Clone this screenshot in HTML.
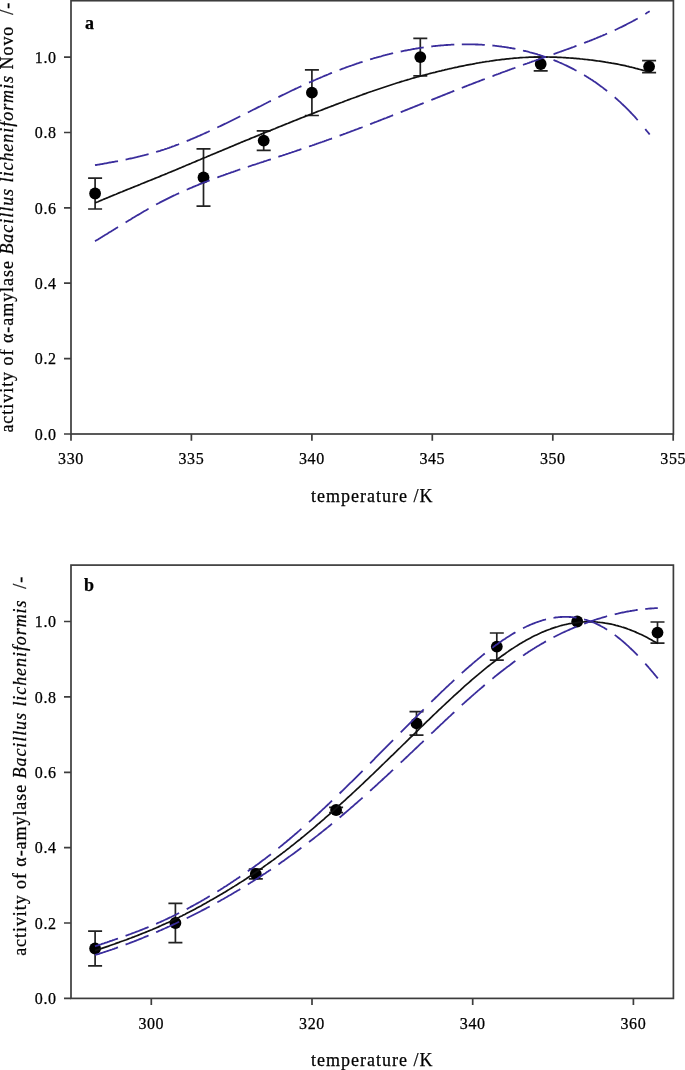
<!DOCTYPE html>
<html><head><meta charset="utf-8"><style>
html,body{margin:0;padding:0;background:#fff;}
svg{display:block}
text{font-family:'Liberation Serif','Times New Roman',serif;fill:#000;stroke:#000;stroke-width:0.25px}
.t{font-size:16px;letter-spacing:1px}
.ax{font-size:18px;letter-spacing:1px}
.pl{font-size:18px;font-weight:bold}
</style></head><body>
<svg width="685" height="1070" viewBox="0 0 685 1070">
<rect width="685" height="1070" fill="#fff"/>
<!-- panel a -->
<g fill="none" stroke="#3c3c3c" stroke-width="1.7">
<rect x="71" y="0.7" width="602.4" height="433.3"/>
<path d="M64 434H71M64 358.6H71M64 283.2H71M64 207.9H71M64 132.5H71M64 57.1H71M71 434.0V440.8M191.4 434.0V440.8M311.9 434.0V440.8M432.3 434.0V440.8M552.8 434.0V440.8M673.2 434.0V440.8"/>
</g>
<g stroke="#222" stroke-width="1.7" fill="none"><path d="M95.1 178.1V209M88.1 178.1H102.1M88.1 209H102.1"/><path d="M203.5 148.8V206.1M196.5 148.8H210.5M196.5 206.1H210.5"/><path d="M263.7 130.8V150.4M256.7 130.8H270.7M256.7 150.4H270.7"/><path d="M311.9 69.9V115.5M304.9 69.9H318.9M304.9 115.5H318.9"/><path d="M420.3 38.3V75.9M413.3 38.3H427.3M413.3 75.9H427.3"/><path d="M540.7 57.2V70.8M533.7 57.2H547.7M533.7 70.8H547.7"/><path d="M649.1 60.6V72.6M642.1 60.6H656.1M642.1 72.6H656.1"/></g>
<g fill="#000"><circle cx="95.1" cy="193.5" r="5.9"/><circle cx="203.5" cy="177.5" r="5.9"/><circle cx="263.7" cy="140.6" r="5.9"/><circle cx="311.9" cy="92.7" r="5.9"/><circle cx="420.3" cy="57.1" r="5.9"/><circle cx="540.7" cy="64" r="5.9"/><circle cx="649.1" cy="66.6" r="5.9"/></g>
<path d="M95.1 202.9 L96.6 202.3 L98.1 201.7 L99.6 201 L101.1 200.4 L102.6 199.8 L104.1 199.1 L105.6 198.5 L107.1 197.9 L108.6 197.2 L110.1 196.6 L111.6 196 L113.1 195.4 L114.6 194.8 L116.1 194.2 L117.6 193.5 L119.1 192.9 L120.6 192.3 L122.1 191.7 L123.5 191.1 L125 190.5 L126.5 189.9 L128 189.3 L129.5 188.7 L131 188.1 L132.5 187.5 L134 186.9 L135.5 186.3 L137 185.7 L138.5 185.1 L140 184.5 L141.5 183.8 L143 183.2 L144.5 182.6 L146 182 L147.5 181.4 L149 180.8 L150.5 180.2 L152 179.6 L153.5 179 L155 178.4 L156.5 177.8 L158 177.2 L159.5 176.6 L161 175.9 L162.5 175.3 L164 174.7 L165.5 174.1 L167 173.5 L168.5 172.8 L170 172.2 L171.5 171.6 L173 171 L174.5 170.4 L176 169.7 L177.5 169.1 L178.9 168.5 L180.4 167.9 L181.9 167.2 L183.4 166.6 L184.9 166 L186.4 165.3 L187.9 164.7 L189.4 164.1 L190.9 163.5 L192.4 162.8 L193.9 162.2 L195.4 161.6 L196.9 160.9 L198.4 160.3 L199.9 159.7 L201.4 159 L202.9 158.4 L204.4 157.8 L205.9 157.2 L207.4 156.5 L208.9 155.9 L210.4 155.3 L211.9 154.6 L213.4 154 L214.9 153.4 L216.4 152.7 L217.9 152.1 L219.4 151.5 L220.9 150.9 L222.4 150.2 L223.9 149.6 L225.4 149 L226.9 148.4 L228.4 147.7 L229.9 147.1 L231.4 146.5 L232.9 145.9 L234.3 145.2 L235.8 144.6 L237.3 144 L238.8 143.4 L240.3 142.8 L241.8 142.1 L243.3 141.5 L244.8 140.9 L246.3 140.3 L247.8 139.7 L249.3 139.1 L250.8 138.4 L252.3 137.8 L253.8 137.2 L255.3 136.6 L256.8 136 L258.3 135.4 L259.8 134.8 L261.3 134.1 L262.8 133.5 L264.3 132.9 L265.8 132.3 L267.3 131.7 L268.8 131.1 L270.3 130.5 L271.8 129.9 L273.3 129.3 L274.8 128.7 L276.3 128 L277.8 127.4 L279.3 126.8 L280.8 126.2 L282.3 125.6 L283.8 125 L285.3 124.4 L286.8 123.8 L288.3 123.2 L289.7 122.6 L291.2 122 L292.7 121.4 L294.2 120.8 L295.7 120.2 L297.2 119.6 L298.7 119 L300.2 118.4 L301.7 117.8 L303.2 117.2 L304.7 116.6 L306.2 116 L307.7 115.5 L309.2 114.9 L310.7 114.3 L312.2 113.7 L313.7 113.1 L315.2 112.5 L316.7 111.9 L318.2 111.3 L319.7 110.8 L321.2 110.2 L322.7 109.6 L324.2 109 L325.7 108.4 L327.2 107.9 L328.7 107.3 L330.2 106.7 L331.7 106.1 L333.2 105.6 L334.7 105 L336.2 104.4 L337.7 103.9 L339.2 103.3 L340.7 102.7 L342.2 102.2 L343.7 101.6 L345.1 101 L346.6 100.5 L348.1 99.9 L349.6 99.4 L351.1 98.8 L352.6 98.3 L354.1 97.7 L355.6 97.2 L357.1 96.6 L358.6 96.1 L360.1 95.5 L361.6 95 L363.1 94.4 L364.6 93.9 L366.1 93.4 L367.6 92.8 L369.1 92.3 L370.6 91.8 L372.1 91.3 L373.6 90.7 L375.1 90.2 L376.6 89.7 L378.1 89.2 L379.6 88.7 L381.1 88.2 L382.6 87.7 L384.1 87.2 L385.6 86.7 L387.1 86.2 L388.6 85.7 L390.1 85.2 L391.6 84.7 L393.1 84.2 L394.6 83.8 L396.1 83.3 L397.6 82.8 L399.1 82.4 L400.5 81.9 L402 81.4 L403.5 81 L405 80.5 L406.5 80.1 L408 79.6 L409.5 79.2 L411 78.7 L412.5 78.3 L414 77.9 L415.5 77.5 L417 77 L418.5 76.6 L420 76.2 L421.5 75.8 L423 75.4 L424.5 75 L426 74.6 L427.5 74.2 L429 73.8 L430.5 73.4 L432 73 L433.5 72.6 L435 72.3 L436.5 71.9 L438 71.5 L439.5 71.1 L441 70.8 L442.5 70.4 L444 70.1 L445.5 69.7 L447 69.4 L448.5 69 L450 68.7 L451.5 68.4 L453 68 L454.5 67.7 L455.9 67.4 L457.4 67.1 L458.9 66.7 L460.4 66.4 L461.9 66.1 L463.4 65.8 L464.9 65.5 L466.4 65.2 L467.9 64.9 L469.4 64.6 L470.9 64.3 L472.4 64.1 L473.9 63.8 L475.4 63.5 L476.9 63.2 L478.4 63 L479.9 62.7 L481.4 62.5 L482.9 62.2 L484.4 62 L485.9 61.7 L487.4 61.5 L488.9 61.3 L490.4 61 L491.9 60.8 L493.4 60.6 L494.9 60.4 L496.4 60.2 L497.9 60 L499.4 59.8 L500.9 59.6 L502.4 59.4 L503.9 59.3 L505.4 59.1 L506.9 58.9 L508.4 58.8 L509.9 58.6 L511.3 58.5 L512.8 58.3 L514.3 58.2 L515.8 58.1 L517.3 58 L518.8 57.8 L520.3 57.7 L521.8 57.6 L523.3 57.5 L524.8 57.5 L526.3 57.4 L527.8 57.3 L529.3 57.2 L530.8 57.2 L532.3 57.1 L533.8 57.1 L535.3 57.1 L536.8 57 L538.3 57 L539.8 57 L541.3 57 L542.8 57 L544.3 57 L545.8 57 L547.3 57 L548.8 57 L550.3 57.1 L551.8 57.1 L553.3 57.1 L554.8 57.2 L556.3 57.2 L557.8 57.3 L559.3 57.4 L560.8 57.4 L562.3 57.5 L563.8 57.6 L565.3 57.7 L566.7 57.8 L568.2 57.9 L569.7 58 L571.2 58.1 L572.7 58.2 L574.2 58.3 L575.7 58.4 L577.2 58.6 L578.7 58.7 L580.2 58.9 L581.7 59 L583.2 59.2 L584.7 59.3 L586.2 59.5 L587.7 59.6 L589.2 59.8 L590.7 60 L592.2 60.2 L593.7 60.4 L595.2 60.6 L596.7 60.8 L598.2 61 L599.7 61.2 L601.2 61.4 L602.7 61.6 L604.2 61.8 L605.7 62.1 L607.2 62.3 L608.7 62.6 L610.2 62.8 L611.7 63.1 L613.2 63.3 L614.7 63.6 L616.2 63.9 L617.7 64.2 L619.2 64.5 L620.7 64.8 L622.1 65.1 L623.6 65.4 L625.1 65.7 L626.6 66.1 L628.1 66.4 L629.6 66.8 L631.1 67.1 L632.6 67.5 L634.1 67.9 L635.6 68.3 L637.1 68.6 L638.6 69.1 L640.1 69.5 L641.6 69.9 L643.1 70.3 L644.6 70.8 L646.1 71.2 L647.6 71.7 L649.1 72.1" fill="none" stroke="#111" stroke-width="1.7"/>
<g fill="none" stroke="#3a2d9c" stroke-width="1.8" stroke-linecap="butt">
<path d="M95 165.2 L96 165 L97 164.8 L98 164.6 L99 164.5 L100 164.3 L101 164.1 L102 164 L103 163.8 L104 163.6 L105 163.4 L106 163.3 L107 163.1 L108 162.9 L109 162.7 L110 162.5 L111 162.4 L112 162.2 L113 162 L114 161.8 L115 161.6 L116 161.4 L117 161.3 L118 161.1 M125.6 159.6 L126.6 159.4 L127.6 159.2 L128.6 158.9 L129.6 158.7 L130.6 158.5 L131.6 158.3 L132.6 158.1 L133.6 157.9 L134.6 157.6 L135.6 157.4 L136.6 157.2 L137.6 156.9 L138.6 156.7 L139.6 156.5 L140.6 156.2 L141.6 156 L142.6 155.7 L143.6 155.5 L144.6 155.2 L145.6 155 L146.6 154.7 L147.6 154.4 L148.6 154.2 M156.1 152 L157.1 151.7 L158.1 151.4 L159.1 151.1 L160.1 150.8 L161.1 150.4 L162.1 150.1 L163.1 149.8 L164.1 149.5 L165.1 149.1 L166.1 148.8 L167.1 148.5 L168.1 148.1 L169.1 147.8 L170.1 147.4 L171.1 147.1 L172.1 146.7 L173.1 146.3 L174.1 146 L175.1 145.6 L176.1 145.2 L177.1 144.8 L178.1 144.5 L179.1 144.1 M186.7 141.1 L187.7 140.7 L188.7 140.3 L189.7 139.9 L190.7 139.4 L191.7 139 L192.7 138.6 L193.7 138.2 L194.7 137.7 L195.7 137.3 L196.7 136.9 L197.7 136.4 L198.7 136 L199.7 135.6 L200.7 135.1 L201.7 134.7 L202.7 134.2 L203.7 133.8 L204.7 133.3 L205.7 132.9 L206.7 132.4 L207.7 132 L208.7 131.5 L209.7 131 M217.3 127.5 L218.3 127 L219.3 126.5 L220.3 126.1 L221.3 125.6 L222.3 125.1 L223.3 124.6 L224.3 124.1 L225.3 123.7 L226.3 123.2 L227.3 122.7 L228.3 122.2 L229.3 121.7 L230.3 121.2 L231.3 120.7 L232.3 120.2 L233.3 119.7 L234.3 119.2 L235.3 118.7 L236.3 118.2 L237.3 117.7 L238.3 117.2 L239.3 116.7 L240.3 116.2 M247.8 112.4 L248.8 112 L249.8 111.5 L250.7 111 L251.7 110.5 L252.6 110 L253.6 109.5 L254.6 109.1 L255.5 108.6 L256.5 108.1 L257.4 107.6 L258.4 107.1 L259.4 106.6 L260.3 106.2 L261.3 105.7 L262.2 105.2 L263.2 104.7 L264.1 104.2 L265.1 103.7 L266.1 103.3 L267 102.8 L268 102.3 L268.9 101.8 L269.9 101.3 L270.9 100.9 M278.4 97.1 L279.4 96.6 L280.4 96.1 L281.4 95.6 L282.4 95.1 L283.4 94.7 L284.4 94.2 L285.4 93.7 L286.4 93.2 L287.4 92.7 L288.4 92.2 L289.4 91.8 L290.4 91.3 L291.4 90.8 L292.4 90.3 L293.4 89.8 L294.4 89.4 L295.4 88.9 L296.4 88.4 L297.4 88 L298.4 87.5 L299.4 87 L300.4 86.6 L301.4 86.1 M309 82.6 L310 82.2 L311 81.8 L312 81.3 L313 80.9 L314 80.4 L315 80 L316 79.5 L317 79.1 L318 78.7 L319 78.2 L320 77.8 L321 77.4 L322 77 L323 76.5 L324 76.1 L325 75.7 L326 75.3 L327 74.9 L328 74.5 L329 74 L330 73.6 L331 73.2 L332 72.8 M339.6 69.9 L340.6 69.5 L341.6 69.1 L342.6 68.7 L343.6 68.4 L344.6 68 L345.6 67.6 L346.6 67.2 L347.6 66.9 L348.6 66.5 L349.6 66.2 L350.6 65.8 L351.6 65.5 L352.6 65.1 L353.6 64.8 L354.6 64.4 L355.6 64.1 L356.6 63.7 L357.6 63.4 L358.6 63.1 L359.6 62.7 L360.6 62.4 L361.6 62.1 L362.6 61.8 M370.1 59.4 L371.1 59.1 L372.1 58.8 L373.1 58.5 L374.1 58.2 L375.1 57.9 L376.1 57.7 L377.1 57.4 L378.1 57.1 L379.1 56.8 L380.1 56.5 L381.1 56.3 L382.1 56 L383.1 55.7 L384.1 55.5 L385.1 55.2 L386.1 55 L387.1 54.7 L388.1 54.5 L389.1 54.2 L390.1 54 L391.1 53.7 L392.1 53.5 L393.1 53.2 M400.7 51.5 L401.7 51.3 L402.7 51.1 L403.7 50.9 L404.7 50.7 L405.7 50.5 L406.7 50.3 L407.7 50.1 L408.7 49.9 L409.7 49.8 L410.7 49.6 L411.7 49.4 L412.7 49.2 L413.7 49 L414.7 48.9 L415.7 48.7 L416.7 48.5 L417.7 48.4 L418.7 48.2 L419.7 48 L420.7 47.9 L421.7 47.7 L422.7 47.6 L423.7 47.4 M431.3 46.5 L432.3 46.3 L433.3 46.2 L434.3 46.1 L435.3 46 L436.3 45.9 L437.3 45.8 L438.3 45.7 L439.3 45.6 L440.3 45.5 L441.3 45.4 L442.3 45.3 L443.3 45.3 L444.3 45.2 L445.3 45.1 L446.3 45 L447.3 45 L448.3 44.9 L449.3 44.8 L450.3 44.8 L451.3 44.7 L452.3 44.7 L453.3 44.6 L454.3 44.6 M461.8 44.3 L462.8 44.3 L463.8 44.3 L464.8 44.3 L465.8 44.3 L466.8 44.3 L467.8 44.3 L468.8 44.3 L469.8 44.3 L470.8 44.3 L471.8 44.4 L472.8 44.4 L473.8 44.4 L474.8 44.4 L475.8 44.5 L476.8 44.5 L477.8 44.5 L478.8 44.6 L479.8 44.6 L480.8 44.7 L481.8 44.7 L482.8 44.8 L483.8 44.8 L484.8 44.9 M492.4 45.5 L493.4 45.6 L494.3 45.7 L495.3 45.8 L496.2 45.9 L497.2 46.1 L498.2 46.2 L499.1 46.3 L500.1 46.4 L501 46.5 L502 46.7 L503 46.8 L503.9 46.9 L504.9 47.1 L505.8 47.2 L506.8 47.4 L507.7 47.5 L508.7 47.7 L509.7 47.8 L510.6 48 L511.6 48.2 L512.5 48.4 L513.5 48.5 L514.5 48.7 L515.4 48.9 M523 50.5 L524 50.8 L525 51 L526 51.2 L527 51.5 L528 51.7 L529 52 L530 52.3 L531 52.5 L532 52.8 L533 53.1 L534 53.4 L535 53.7 L536 54 L537 54.2 L538 54.6 L539 54.9 L540 55.2 L541 55.5 L542 55.8 L543 56.2 L544 56.5 L545 56.8 L546 57.2 M553.5 60 L554.5 60.4 L555.5 60.8 L556.5 61.2 L557.5 61.6 L558.5 62 L559.5 62.5 L560.5 62.9 L561.5 63.3 L562.5 63.8 L563.5 64.2 L564.5 64.7 L565.5 65.2 L566.5 65.6 L567.5 66.1 L568.5 66.6 L569.5 67.1 L570.5 67.6 L571.5 68.1 L572.5 68.6 L573.5 69.1 L574.5 69.7 L575.5 70.2 L576.5 70.7 M584.1 75.1 L585.1 75.7 L586.1 76.3 L587.1 76.9 L588.1 77.5 L589.1 78.2 L590.1 78.8 L591.1 79.5 L592.1 80.1 L593.1 80.8 L594.1 81.5 L595.1 82.1 L596.1 82.8 L597.1 83.5 L598.1 84.2 L599.1 84.9 L600.1 85.7 L601.1 86.4 L602.1 87.1 L603.1 87.9 L604.1 88.7 L605.1 89.4 L606.1 90.2 L607.1 91 M614.7 97.3 L615.7 98.1 L616.7 99 L617.7 99.9 L618.7 100.8 L619.7 101.7 L620.7 102.6 L621.7 103.6 L622.7 104.5 L623.7 105.5 L624.7 106.4 L625.7 107.4 L626.7 108.4 L627.7 109.4 L628.7 110.4 L629.7 111.5 L630.7 112.5 L631.7 113.5 L632.7 114.6 L633.7 115.7 L634.7 116.7 L635.7 117.8 L636.7 119 L637.7 120.1 M645.3 129 L646.1 130.1 L647 131.2 L647.9 132.3 L648.8 133.4 L649.7 134.5"/>
<path d="M95 241.2 L96 240.6 L97 240 L98 239.4 L99 238.8 L100 238.2 L101 237.6 L102 236.9 L103 236.3 L104 235.7 L105 235.1 L106 234.5 L107 233.9 L108 233.3 L109 232.6 L110 232 L111 231.4 L112 230.8 L113 230.2 L114 229.6 L115 228.9 L116 228.3 L117 227.7 L118 227.1 M125.6 222.4 L126.6 221.8 L127.6 221.2 L128.6 220.6 L129.6 220 L130.6 219.4 L131.6 218.8 L132.6 218.1 L133.6 217.5 L134.6 216.9 L135.6 216.3 L136.6 215.7 L137.6 215.1 L138.6 214.6 L139.6 214 L140.6 213.4 L141.6 212.8 L142.6 212.2 L143.6 211.6 L144.6 211 L145.6 210.5 L146.6 209.9 L147.6 209.3 L148.6 208.8 M156.1 204.6 L157.1 204 L158.1 203.5 L159.1 203 L160.1 202.4 L161.1 201.9 L162.1 201.4 L163.1 200.9 L164.1 200.4 L165.1 199.9 L166.1 199.4 L167.1 198.9 L168.1 198.4 L169.1 197.9 L170.1 197.4 L171.1 196.9 L172.1 196.4 L173.1 195.9 L174.1 195.4 L175.1 195 L176.1 194.5 L177.1 194 L178.1 193.6 L179.1 193.1 M186.7 189.7 L187.7 189.3 L188.7 188.8 L189.7 188.4 L190.7 188 L191.7 187.6 L192.7 187.1 L193.7 186.7 L194.7 186.3 L195.7 185.9 L196.7 185.5 L197.7 185.1 L198.7 184.6 L199.7 184.2 L200.7 183.8 L201.7 183.4 L202.7 183 L203.7 182.6 L204.7 182.2 L205.7 181.9 L206.7 181.5 L207.7 181.1 L208.7 180.7 L209.7 180.3 M217.3 177.5 L218.3 177.1 L219.3 176.7 L220.3 176.4 L221.3 176 L222.3 175.6 L223.3 175.3 L224.3 174.9 L225.3 174.6 L226.3 174.2 L227.3 173.8 L228.3 173.5 L229.3 173.1 L230.3 172.8 L231.3 172.4 L232.3 172.1 L233.3 171.8 L234.3 171.4 L235.3 171.1 L236.3 170.7 L237.3 170.4 L238.3 170 L239.3 169.7 L240.3 169.4 M247.8 166.8 L248.8 166.5 L249.8 166.2 L250.7 165.9 L251.7 165.5 L252.6 165.2 L253.6 164.9 L254.6 164.6 L255.5 164.3 L256.5 164 L257.4 163.6 L258.4 163.3 L259.4 163 L260.3 162.7 L261.3 162.4 L262.2 162.1 L263.2 161.8 L264.1 161.4 L265.1 161.1 L266.1 160.8 L267 160.5 L268 160.2 L268.9 159.9 L269.9 159.6 L270.9 159.3 M278.4 156.8 L279.4 156.4 L280.4 156.1 L281.4 155.8 L282.4 155.5 L283.4 155.1 L284.4 154.8 L285.4 154.5 L286.4 154.1 L287.4 153.8 L288.4 153.5 L289.4 153.1 L290.4 152.8 L291.4 152.5 L292.4 152.1 L293.4 151.8 L294.4 151.5 L295.4 151.1 L296.4 150.8 L297.4 150.4 L298.4 150.1 L299.4 149.8 L300.4 149.4 L301.4 149.1 M309 146.5 L310 146.2 L311 145.8 L312 145.5 L313 145.1 L314 144.8 L315 144.4 L316 144.1 L317 143.7 L318 143.4 L319 143 L320 142.7 L321 142.3 L322 142 L323 141.6 L324 141.3 L325 140.9 L326 140.6 L327 140.2 L328 139.9 L329 139.5 L330 139.1 L331 138.8 L332 138.4 M339.6 135.7 L340.6 135.3 L341.6 134.9 L342.6 134.6 L343.6 134.2 L344.6 133.8 L345.6 133.5 L346.6 133.1 L347.6 132.7 L348.6 132.4 L349.6 132 L350.6 131.6 L351.6 131.2 L352.6 130.9 L353.6 130.5 L354.6 130.1 L355.6 129.7 L356.6 129.4 L357.6 129 L358.6 128.6 L359.6 128.2 L360.6 127.8 L361.6 127.5 L362.6 127.1 M370.1 124.2 L371.1 123.8 L372.1 123.4 L373.1 123 L374.1 122.6 L375.1 122.2 L376.1 121.9 L377.1 121.5 L378.1 121.1 L379.1 120.7 L380.1 120.3 L381.1 119.9 L382.1 119.5 L383.1 119.1 L384.1 118.7 L385.1 118.3 L386.1 118 L387.1 117.6 L388.1 117.2 L389.1 116.8 L390.1 116.4 L391.1 116 L392.1 115.6 L393.1 115.2 M400.7 112.2 L401.7 111.8 L402.7 111.4 L403.7 111 L404.7 110.6 L405.7 110.2 L406.7 109.8 L407.7 109.4 L408.7 109 L409.7 108.6 L410.7 108.2 L411.7 107.8 L412.7 107.4 L413.7 107 L414.7 106.6 L415.7 106.2 L416.7 105.8 L417.7 105.4 L418.7 105 L419.7 104.6 L420.7 104.2 L421.7 103.8 L422.7 103.4 L423.7 103 M431.3 100 L432.3 99.6 L433.3 99.2 L434.3 98.8 L435.3 98.4 L436.3 98 L437.3 97.6 L438.3 97.2 L439.3 96.8 L440.3 96.4 L441.3 96 L442.3 95.6 L443.3 95.2 L444.3 94.8 L445.3 94.4 L446.3 94 L447.3 93.6 L448.3 93.2 L449.3 92.8 L450.3 92.4 L451.3 92 L452.3 91.6 L453.3 91.2 L454.3 90.8 M461.8 87.9 L462.8 87.5 L463.8 87.1 L464.8 86.7 L465.8 86.3 L466.8 85.9 L467.8 85.5 L468.8 85.1 L469.8 84.7 L470.8 84.4 L471.8 84 L472.8 83.6 L473.8 83.2 L474.8 82.8 L475.8 82.4 L476.8 82 L477.8 81.7 L478.8 81.3 L479.8 80.9 L480.8 80.5 L481.8 80.1 L482.8 79.7 L483.8 79.4 L484.8 79 M492.4 76.1 L493.4 75.8 L494.3 75.4 L495.3 75 L496.2 74.7 L497.2 74.3 L498.2 74 L499.1 73.6 L500.1 73.3 L501 72.9 L502 72.5 L503 72.2 L503.9 71.8 L504.9 71.5 L505.8 71.1 L506.8 70.8 L507.7 70.4 L508.7 70.1 L509.7 69.7 L510.6 69.4 L511.6 69 L512.5 68.7 L513.5 68.3 L514.5 68 L515.4 67.6 M523 64.9 L524 64.5 L525 64.2 L526 63.8 L527 63.5 L528 63.1 L529 62.8 L530 62.4 L531 62.1 L532 61.7 L533 61.3 L534 61 L535 60.6 L536 60.3 L537 59.9 L538 59.6 L539 59.2 L540 58.9 L541 58.5 L542 58.2 L543 57.8 L544 57.5 L545 57.1 L546 56.8 M553.5 54.1 L554.5 53.8 L555.5 53.4 L556.5 53.1 L557.5 52.7 L558.5 52.4 L559.5 52 L560.5 51.7 L561.5 51.3 L562.5 50.9 L563.5 50.6 L564.5 50.2 L565.5 49.9 L566.5 49.5 L567.5 49.2 L568.5 48.8 L569.5 48.4 L570.5 48.1 L571.5 47.7 L572.5 47.3 L573.5 47 L574.5 46.6 L575.5 46.2 L576.5 45.9 M584.1 43 L585.1 42.6 L586.1 42.2 L587.1 41.8 L588.1 41.4 L589.1 41.1 L590.1 40.7 L591.1 40.3 L592.1 39.9 L593.1 39.5 L594.1 39.1 L595.1 38.7 L596.1 38.3 L597.1 37.8 L598.1 37.4 L599.1 37 L600.1 36.6 L601.1 36.2 L602.1 35.8 L603.1 35.3 L604.1 34.9 L605.1 34.5 L606.1 34 L607.1 33.6 M614.7 30.2 L615.7 29.7 L616.7 29.3 L617.7 28.8 L618.7 28.3 L619.7 27.8 L620.7 27.3 L621.7 26.9 L622.7 26.4 L623.7 25.9 L624.7 25.4 L625.7 24.9 L626.7 24.3 L627.7 23.8 L628.7 23.3 L629.7 22.8 L630.7 22.3 L631.7 21.7 L632.7 21.2 L633.7 20.6 L634.7 20.1 L635.7 19.5 L636.7 19 L637.7 18.4 M645.3 13.9 L646.1 13.4 L647 12.8 L647.9 12.3 L648.8 11.7 L649.7 11.2"/>
</g>
<g class="t"><text x="56.6" y="439.8" text-anchor="end" style="letter-spacing:0.6px">0.0</text><text x="56.6" y="364.4" text-anchor="end" style="letter-spacing:0.6px">0.2</text><text x="56.6" y="289" text-anchor="end" style="letter-spacing:0.6px">0.4</text><text x="56.6" y="213.7" text-anchor="end" style="letter-spacing:0.6px">0.6</text><text x="56.6" y="138.3" text-anchor="end" style="letter-spacing:0.6px">0.8</text><text x="56.6" y="62.9" text-anchor="end" style="letter-spacing:0.6px">1.0</text><text x="71" y="464.0" text-anchor="middle" style="letter-spacing:0.6px">330</text><text x="191.4" y="464.0" text-anchor="middle" style="letter-spacing:0.6px">335</text><text x="311.9" y="464.0" text-anchor="middle" style="letter-spacing:0.6px">340</text><text x="432.3" y="464.0" text-anchor="middle" style="letter-spacing:0.6px">345</text><text x="552.8" y="464.0" text-anchor="middle" style="letter-spacing:0.6px">350</text><text x="673.2" y="464.0" text-anchor="middle" style="letter-spacing:0.6px">355</text></g>
<text class="pl" x="85" y="29">a</text>
<text class="ax" x="372.2" y="501.5" text-anchor="middle">temperature /K</text>
<text class="ax" transform="translate(13.4 432.6) rotate(-90)" style="letter-spacing:0.96px">activity of α-amylase <tspan font-style="italic">Bacillus licheniformis</tspan> Novo&#160; /-</text>
<!-- panel b -->
<g fill="none" stroke="#3c3c3c" stroke-width="1.7">
<rect x="71" y="565.1" width="602.4" height="433.29999999999995"/>
<path d="M64 998.4H71M64 923H71M64 847.6H71M64 772.3H71M64 696.9H71M64 621.5H71M151.3 998.4V1005.0M312 998.4V1005.0M472.7 998.4V1005.0M633.4 998.4V1005.0"/>
</g>
<g stroke="#222" stroke-width="1.7" fill="none"><path d="M95.1 931.2V965.8M88.1 931.2H102.1M88.1 965.8H102.1"/><path d="M175.4 903.4V942.6M168.4 903.4H182.4M168.4 942.6H182.4"/><path d="M255.8 869.1V878.9M248.8 869.1H262.8M248.8 878.9H262.8"/><path d="M336.1 807.3V812.6M329.1 807.3H343.1M329.1 812.6H343.1"/><path d="M416.5 711.7V735.1M409.5 711.7H423.5M409.5 735.1H423.5"/><path d="M496.8 633V660.2M489.8 633H503.8M489.8 660.2H503.8"/><path d="M657.5 622V643.1M650.5 622H664.5M650.5 643.1H664.5"/></g>
<g fill="#000"><circle cx="95.1" cy="948.5" r="5.9"/><circle cx="175.4" cy="923" r="5.9"/><circle cx="255.8" cy="874" r="5.9"/><circle cx="336.1" cy="810" r="5.9"/><circle cx="416.5" cy="723.4" r="5.9"/><circle cx="496.8" cy="646.6" r="5.9"/><circle cx="577.2" cy="621.5" r="5.9"/><circle cx="657.5" cy="632.6" r="5.9"/></g>
<path d="M95 950.6 L96.5 950.1 L98 949.6 L99.5 949.1 L101 948.6 L102.5 948.1 L104 947.6 L105.5 947.1 L107 946.6 L108.5 946.1 L110 945.5 L111.5 945 L113 944.5 L114.5 944 L116 943.4 L117.4 942.9 L118.9 942.4 L120.4 941.8 L121.9 941.3 L123.4 940.8 L124.9 940.2 L126.4 939.7 L127.9 939.1 L129.4 938.5 L130.9 938 L132.4 937.4 L133.9 936.9 L135.4 936.3 L136.9 935.7 L138.4 935.1 L139.9 934.5 L141.4 933.9 L142.9 933.3 L144.4 932.7 L145.9 932.1 L147.4 931.5 L148.9 930.9 L150.4 930.3 L151.9 929.7 L153.4 929 L154.9 928.4 L156.4 927.7 L157.9 927.1 L159.4 926.4 L160.8 925.8 L162.3 925.1 L163.8 924.4 L165.3 923.8 L166.8 923.1 L168.3 922.4 L169.8 921.7 L171.3 921 L172.8 920.3 L174.3 919.5 L175.8 918.8 L177.3 918.1 L178.8 917.4 L180.3 916.6 L181.8 915.9 L183.3 915.1 L184.8 914.4 L186.3 913.6 L187.8 912.8 L189.3 912.1 L190.8 911.3 L192.3 910.5 L193.8 909.7 L195.3 908.9 L196.8 908.1 L198.3 907.3 L199.8 906.5 L201.3 905.7 L202.8 904.8 L204.2 904 L205.7 903.2 L207.2 902.3 L208.7 901.5 L210.2 900.6 L211.7 899.8 L213.2 898.9 L214.7 898.1 L216.2 897.2 L217.7 896.3 L219.2 895.4 L220.7 894.6 L222.2 893.7 L223.7 892.8 L225.2 891.9 L226.7 891 L228.2 890.1 L229.7 889.1 L231.2 888.2 L232.7 887.3 L234.2 886.4 L235.7 885.4 L237.2 884.5 L238.7 883.5 L240.2 882.6 L241.7 881.6 L243.2 880.7 L244.7 879.7 L246.2 878.7 L247.6 877.7 L249.1 876.7 L250.6 875.7 L252.1 874.7 L253.6 873.7 L255.1 872.7 L256.6 871.7 L258.1 870.7 L259.6 869.6 L261.1 868.6 L262.6 867.6 L264.1 866.5 L265.6 865.4 L267.1 864.4 L268.6 863.3 L270.1 862.2 L271.6 861.1 L273.1 860.1 L274.6 859 L276.1 857.9 L277.6 856.7 L279.1 855.6 L280.6 854.5 L282.1 853.4 L283.6 852.2 L285.1 851.1 L286.6 849.9 L288.1 848.8 L289.6 847.6 L291 846.4 L292.5 845.3 L294 844.1 L295.5 842.9 L297 841.7 L298.5 840.5 L300 839.3 L301.5 838 L303 836.8 L304.5 835.6 L306 834.3 L307.5 833.1 L309 831.9 L310.5 830.6 L312 829.3 L313.5 828.1 L315 826.8 L316.5 825.5 L318 824.2 L319.5 823 L321 821.7 L322.5 820.4 L324 819.1 L325.5 817.7 L327 816.4 L328.5 815.1 L330 813.8 L331.5 812.5 L333 811.1 L334.4 809.8 L335.9 808.4 L337.4 807.1 L338.9 805.7 L340.4 804.4 L341.9 803 L343.4 801.7 L344.9 800.3 L346.4 798.9 L347.9 797.5 L349.4 796.2 L350.9 794.8 L352.4 793.4 L353.9 792 L355.4 790.6 L356.9 789.2 L358.4 787.8 L359.9 786.4 L361.4 785 L362.9 783.6 L364.4 782.1 L365.9 780.7 L367.4 779.3 L368.9 777.9 L370.4 776.4 L371.9 775 L373.4 773.6 L374.9 772.1 L376.4 770.7 L377.8 769.3 L379.3 767.8 L380.8 766.4 L382.3 764.9 L383.8 763.5 L385.3 762 L386.8 760.6 L388.3 759.1 L389.8 757.7 L391.3 756.2 L392.8 754.8 L394.3 753.3 L395.8 751.9 L397.3 750.4 L398.8 748.9 L400.3 747.5 L401.8 746 L403.3 744.5 L404.8 743.1 L406.3 741.6 L407.8 740.2 L409.3 738.7 L410.8 737.2 L412.3 735.8 L413.8 734.3 L415.3 732.9 L416.8 731.4 L418.3 729.9 L419.7 728.5 L421.2 727 L422.7 725.6 L424.2 724.1 L425.7 722.7 L427.2 721.2 L428.7 719.8 L430.2 718.3 L431.7 716.9 L433.2 715.4 L434.7 714 L436.2 712.6 L437.7 711.1 L439.2 709.7 L440.7 708.3 L442.2 706.9 L443.7 705.5 L445.2 704.1 L446.7 702.7 L448.2 701.3 L449.7 699.9 L451.2 698.5 L452.7 697.1 L454.2 695.7 L455.7 694.3 L457.2 693 L458.7 691.6 L460.2 690.3 L461.7 688.9 L463.1 687.6 L464.6 686.2 L466.1 684.9 L467.6 683.6 L469.1 682.3 L470.6 681 L472.1 679.7 L473.6 678.4 L475.1 677.1 L476.6 675.8 L478.1 674.6 L479.6 673.3 L481.1 672.1 L482.6 670.8 L484.1 669.6 L485.6 668.4 L487.1 667.2 L488.6 666 L490.1 664.8 L491.6 663.7 L493.1 662.5 L494.6 661.3 L496.1 660.2 L497.6 659.1 L499.1 658 L500.6 656.9 L502.1 655.8 L503.6 654.7 L505.1 653.7 L506.5 652.6 L508 651.6 L509.5 650.5 L511 649.5 L512.5 648.6 L514 647.6 L515.5 646.6 L517 645.7 L518.5 644.7 L520 643.8 L521.5 642.9 L523 642 L524.5 641.2 L526 640.3 L527.5 639.5 L529 638.7 L530.5 637.9 L532 637.1 L533.5 636.3 L535 635.6 L536.5 634.9 L538 634.2 L539.5 633.5 L541 632.8 L542.5 632.1 L544 631.5 L545.5 630.9 L547 630.3 L548.5 629.7 L549.9 629.2 L551.4 628.6 L552.9 628.1 L554.4 627.6 L555.9 627.1 L557.4 626.7 L558.9 626.2 L560.4 625.8 L561.9 625.4 L563.4 625 L564.9 624.7 L566.4 624.3 L567.9 624 L569.4 623.7 L570.9 623.5 L572.4 623.2 L573.9 623 L575.4 622.8 L576.9 622.6 L578.4 622.4 L579.9 622.2 L581.4 622.1 L582.9 622 L584.4 621.9 L585.9 621.9 L587.4 621.8 L588.9 621.8 L590.4 621.8 L591.9 621.8 L593.3 621.9 L594.8 621.9 L596.3 622 L597.8 622.2 L599.3 622.3 L600.8 622.5 L602.3 622.6 L603.8 622.8 L605.3 623.1 L606.8 623.3 L608.3 623.6 L609.8 623.9 L611.3 624.2 L612.8 624.5 L614.3 624.9 L615.8 625.3 L617.3 625.6 L618.8 626.1 L620.3 626.5 L621.8 627 L623.3 627.4 L624.8 627.9 L626.3 628.4 L627.8 629 L629.3 629.5 L630.8 630.1 L632.3 630.7 L633.8 631.3 L635.3 631.9 L636.7 632.6 L638.2 633.2 L639.7 633.9 L641.2 634.6 L642.7 635.3 L644.2 636.1 L645.7 636.8 L647.2 637.6 L648.7 638.4 L650.2 639.2 L651.7 640 L653.2 640.9 L654.7 641.7 L656.2 642.6 L657.7 643.5" fill="none" stroke="#111" stroke-width="1.7"/>
<g fill="none" stroke="#3a2d9c" stroke-width="1.8" stroke-linecap="butt">
<path d="M95 946.3 L96 945.9 L97 945.6 L98 945.3 L99 944.9 L100 944.6 L101 944.3 L102 943.9 L103 943.6 L104 943.3 L105 942.9 L106 942.6 L107 942.3 L108 941.9 L109 941.6 L110 941.2 L111 940.9 L112 940.6 L113 940.2 L114 939.9 L115 939.5 L116 939.2 L117 938.8 L118 938.5 M125.6 935.8 L126.6 935.4 L127.6 935.1 L128.6 934.7 L129.6 934.4 L130.6 934 L131.6 933.6 L132.6 933.2 L133.6 932.9 L134.6 932.5 L135.6 932.1 L136.6 931.7 L137.6 931.4 L138.6 931 L139.6 930.6 L140.6 930.2 L141.6 929.8 L142.6 929.4 L143.6 929 L144.6 928.6 L145.6 928.2 L146.6 927.8 L147.6 927.4 L148.6 927 M156.1 923.8 L157.1 923.4 L158.1 922.9 L159.1 922.5 L160.1 922.1 L161.1 921.6 L162.1 921.2 L163.1 920.7 L164.1 920.2 L165.1 919.8 L166.1 919.3 L167.1 918.9 L168.1 918.4 L169.1 917.9 L170.1 917.4 L171.1 917 L172.1 916.5 L173.1 916 L174.1 915.5 L175.1 915 L176.1 914.5 L177.1 914 L178.1 913.5 L179.1 913 M186.7 909.1 L187.7 908.6 L188.7 908 L189.7 907.5 L190.7 906.9 L191.7 906.4 L192.7 905.9 L193.7 905.3 L194.7 904.8 L195.7 904.2 L196.7 903.6 L197.7 903.1 L198.7 902.5 L199.7 902 L200.7 901.4 L201.7 900.8 L202.7 900.2 L203.7 899.7 L204.7 899.1 L205.7 898.5 L206.7 897.9 L207.7 897.3 L208.7 896.7 L209.7 896.1 M217.3 891.5 L218.3 890.9 L219.3 890.3 L220.3 889.7 L221.3 889 L222.3 888.4 L223.3 887.8 L224.3 887.1 L225.3 886.5 L226.3 885.9 L227.3 885.2 L228.3 884.6 L229.3 883.9 L230.3 883.3 L231.3 882.6 L232.3 881.9 L233.3 881.3 L234.3 880.6 L235.3 879.9 L236.3 879.3 L237.3 878.6 L238.3 877.9 L239.3 877.2 L240.3 876.6 M247.8 871.3 L248.8 870.6 L249.8 869.9 L250.7 869.3 L251.7 868.6 L252.6 867.9 L253.6 867.2 L254.6 866.5 L255.5 865.8 L256.5 865.1 L257.4 864.4 L258.4 863.7 L259.4 863 L260.3 862.3 L261.3 861.5 L262.2 860.8 L263.2 860.1 L264.1 859.4 L265.1 858.7 L266.1 857.9 L267 857.2 L268 856.4 L268.9 855.7 L269.9 855 L270.9 854.2 M278.4 848.2 L279.4 847.4 L280.4 846.6 L281.4 845.8 L282.4 845 L283.4 844.1 L284.4 843.3 L285.4 842.5 L286.4 841.7 L287.4 840.8 L288.4 840 L289.4 839.2 L290.4 838.3 L291.4 837.5 L292.4 836.6 L293.4 835.8 L294.4 834.9 L295.4 834 L296.4 833.2 L297.4 832.3 L298.4 831.4 L299.4 830.6 L300.4 829.7 L301.4 828.8 M309 822.1 L310 821.2 L311 820.3 L312 819.4 L313 818.5 L314 817.5 L315 816.6 L316 815.7 L317 814.8 L318 813.9 L319 813 L320 812 L321 811.1 L322 810.2 L323 809.2 L324 808.3 L325 807.4 L326 806.4 L327 805.5 L328 804.5 L329 803.6 L330 802.6 L331 801.7 L332 800.7 M339.6 793.5 L340.6 792.5 L341.6 791.5 L342.6 790.6 L343.6 789.6 L344.6 788.6 L345.6 787.6 L346.6 786.7 L347.6 785.7 L348.6 784.7 L349.6 783.7 L350.6 782.7 L351.6 781.8 L352.6 780.8 L353.6 779.8 L354.6 778.8 L355.6 777.8 L356.6 776.8 L357.6 775.8 L358.6 774.8 L359.6 773.8 L360.6 772.8 L361.6 771.8 L362.6 770.8 M370.1 763.3 L371.1 762.3 L372.1 761.3 L373.1 760.3 L374.1 759.3 L375.1 758.2 L376.1 757.2 L377.1 756.2 L378.1 755.2 L379.1 754.2 L380.1 753.2 L381.1 752.2 L382.1 751.2 L383.1 750.2 L384.1 749.2 L385.1 748.2 L386.1 747.1 L387.1 746.1 L388.1 745.1 L389.1 744.1 L390.1 743.1 L391.1 742.1 L392.1 741.1 L393.1 740.1 M400.7 732.4 L401.7 731.4 L402.7 730.4 L403.7 729.4 L404.7 728.4 L405.7 727.4 L406.7 726.4 L407.7 725.4 L408.7 724.3 L409.7 723.3 L410.7 722.3 L411.7 721.3 L412.7 720.3 L413.7 719.3 L414.7 718.3 L415.7 717.3 L416.7 716.3 L417.7 715.3 L418.7 714.3 L419.7 713.3 L420.7 712.3 L421.7 711.3 L422.7 710.3 L423.7 709.3 M431.3 701.9 L432.3 700.9 L433.3 699.9 L434.3 699 L435.3 698 L436.3 697 L437.3 696.1 L438.3 695.1 L439.3 694.1 L440.3 693.2 L441.3 692.2 L442.3 691.2 L443.3 690.3 L444.3 689.3 L445.3 688.4 L446.3 687.4 L447.3 686.5 L448.3 685.6 L449.3 684.6 L450.3 683.7 L451.3 682.8 L452.3 681.8 L453.3 680.9 L454.3 680 M461.8 673.1 L462.8 672.2 L463.8 671.3 L464.8 670.4 L465.8 669.5 L466.8 668.6 L467.8 667.8 L468.8 666.9 L469.8 666 L470.8 665.2 L471.8 664.3 L472.8 663.4 L473.8 662.6 L474.8 661.7 L475.8 660.9 L476.8 660.1 L477.8 659.2 L478.8 658.4 L479.8 657.6 L480.8 656.8 L481.8 655.9 L482.8 655.1 L483.8 654.3 L484.8 653.5 M492.4 647.7 L493.4 647 L494.3 646.2 L495.3 645.5 L496.2 644.8 L497.2 644.2 L498.2 643.5 L499.1 642.8 L500.1 642.1 L501 641.5 L502 640.8 L503 640.1 L503.9 639.5 L504.9 638.9 L505.8 638.2 L506.8 637.6 L507.7 637 L508.7 636.4 L509.7 635.8 L510.6 635.2 L511.6 634.6 L512.5 634 L513.5 633.4 L514.5 632.9 L515.4 632.3 M523 628.2 L524 627.7 L525 627.2 L526 626.8 L527 626.3 L528 625.8 L529 625.4 L530 624.9 L531 624.5 L532 624.1 L533 623.7 L534 623.3 L535 622.9 L536 622.5 L537 622.2 L538 621.8 L539 621.5 L540 621.2 L541 620.8 L542 620.5 L543 620.2 L544 619.9 L545 619.7 L546 619.4 M553.5 617.8 L554.5 617.7 L555.5 617.5 L556.5 617.4 L557.5 617.3 L558.5 617.2 L559.5 617.1 L560.5 617 L561.5 617 L562.5 616.9 L563.5 616.9 L564.5 616.9 L565.5 616.9 L566.5 616.9 L567.5 616.9 L568.5 616.9 L569.5 617 L570.5 617 L571.5 617.1 L572.5 617.2 L573.5 617.3 L574.5 617.4 L575.5 617.5 L576.5 617.7 M584.1 619.3 L585.1 619.6 L586.1 619.8 L587.1 620.2 L588.1 620.5 L589.1 620.8 L590.1 621.2 L591.1 621.5 L592.1 621.9 L593.1 622.3 L594.1 622.8 L595.1 623.2 L596.1 623.6 L597.1 624.1 L598.1 624.6 L599.1 625.1 L600.1 625.6 L601.1 626.2 L602.1 626.7 L603.1 627.3 L604.1 627.8 L605.1 628.4 L606.1 629.1 L607.1 629.7 M614.7 634.9 L615.7 635.6 L616.7 636.4 L617.7 637.2 L618.7 638 L619.7 638.8 L620.7 639.6 L621.7 640.4 L622.7 641.3 L623.7 642.1 L624.7 643 L625.7 643.9 L626.7 644.8 L627.7 645.7 L628.7 646.6 L629.7 647.6 L630.7 648.5 L631.7 649.5 L632.7 650.4 L633.7 651.4 L634.7 652.4 L635.7 653.4 L636.7 654.4 L637.7 655.5 M645.3 663.6 L646.2 664.7 L647.2 665.8 L648.2 666.9 L649.1 668 L650.1 669.1 L651 670.2 L652 671.4 L653 672.5 L653.9 673.7 L654.9 674.8 L655.9 676 L656.8 677.2 L657.8 678.4"/>
<path d="M95 955 L96 954.7 L97 954.4 L98 954.1 L99 953.8 L100 953.4 L101 953.1 L102 952.8 L103 952.5 L104 952.2 L105 951.8 L106 951.5 L107 951.2 L108 950.8 L109 950.5 L110 950.2 L111 949.8 L112 949.5 L113 949.1 L114 948.8 L115 948.4 L116 948.1 L117 947.7 L118 947.4 M125.6 944.6 L126.6 944.2 L127.6 943.9 L128.6 943.5 L129.6 943.1 L130.6 942.7 L131.6 942.3 L132.6 941.9 L133.6 941.6 L134.6 941.2 L135.6 940.8 L136.6 940.4 L137.6 940 L138.6 939.6 L139.6 939.2 L140.6 938.8 L141.6 938.4 L142.6 938 L143.6 937.5 L144.6 937.1 L145.6 936.7 L146.6 936.3 L147.6 935.9 L148.6 935.5 M156.1 932.2 L157.1 931.8 L158.1 931.4 L159.1 930.9 L160.1 930.5 L161.1 930.1 L162.1 929.6 L163.1 929.2 L164.1 928.7 L165.1 928.3 L166.1 927.8 L167.1 927.4 L168.1 926.9 L169.1 926.5 L170.1 926 L171.1 925.6 L172.1 925.1 L173.1 924.6 L174.1 924.2 L175.1 923.7 L176.1 923.2 L177.1 922.8 L178.1 922.3 L179.1 921.8 M186.7 918.2 L187.7 917.7 L188.7 917.2 L189.7 916.7 L190.7 916.2 L191.7 915.7 L192.7 915.2 L193.7 914.7 L194.7 914.2 L195.7 913.7 L196.7 913.2 L197.7 912.7 L198.7 912.2 L199.7 911.7 L200.7 911.2 L201.7 910.6 L202.7 910.1 L203.7 909.6 L204.7 909.1 L205.7 908.6 L206.7 908 L207.7 907.5 L208.7 907 L209.7 906.4 M217.3 902.3 L218.3 901.8 L219.3 901.2 L220.3 900.7 L221.3 900.1 L222.3 899.5 L223.3 899 L224.3 898.4 L225.3 897.8 L226.3 897.3 L227.3 896.7 L228.3 896.1 L229.3 895.5 L230.3 895 L231.3 894.4 L232.3 893.8 L233.3 893.2 L234.3 892.6 L235.3 892 L236.3 891.4 L237.3 890.8 L238.3 890.2 L239.3 889.7 L240.3 889 M247.8 884.4 L248.8 883.8 L249.8 883.2 L250.7 882.6 L251.7 882 L252.6 881.4 L253.6 880.8 L254.6 880.2 L255.5 879.6 L256.5 879 L257.4 878.4 L258.4 877.7 L259.4 877.1 L260.3 876.5 L261.3 875.9 L262.2 875.3 L263.2 874.6 L264.1 874 L265.1 873.4 L266.1 872.7 L267 872.1 L268 871.5 L268.9 870.8 L269.9 870.2 L270.9 869.5 M278.4 864.4 L279.4 863.7 L280.4 863 L281.4 862.3 L282.4 861.6 L283.4 860.9 L284.4 860.2 L285.4 859.4 L286.4 858.7 L287.4 858 L288.4 857.3 L289.4 856.6 L290.4 855.9 L291.4 855.1 L292.4 854.4 L293.4 853.7 L294.4 853 L295.4 852.2 L296.4 851.5 L297.4 850.8 L298.4 850 L299.4 849.3 L300.4 848.5 L301.4 847.8 M309 842.1 L310 841.3 L311 840.5 L312 839.8 L313 839 L314 838.2 L315 837.4 L316 836.6 L317 835.9 L318 835.1 L319 834.3 L320 833.5 L321 832.7 L322 831.9 L323 831.1 L324 830.3 L325 829.5 L326 828.7 L327 827.9 L328 827.1 L329 826.3 L330 825.5 L331 824.6 L332 823.8 M339.6 817.5 L340.6 816.7 L341.6 815.9 L342.6 815 L343.6 814.2 L344.6 813.3 L345.6 812.5 L346.6 811.6 L347.6 810.8 L348.6 809.9 L349.6 809.1 L350.6 808.2 L351.6 807.3 L352.6 806.5 L353.6 805.6 L354.6 804.7 L355.6 803.8 L356.6 803 L357.6 802.1 L358.6 801.2 L359.6 800.3 L360.6 799.4 L361.6 798.6 L362.6 797.7 M370.1 790.9 L371.1 790 L372.1 789.1 L373.1 788.2 L374.1 787.3 L375.1 786.4 L376.1 785.5 L377.1 784.6 L378.1 783.6 L379.1 782.7 L380.1 781.8 L381.1 780.9 L382.1 780 L383.1 779 L384.1 778.1 L385.1 777.2 L386.1 776.3 L387.1 775.4 L388.1 774.4 L389.1 773.5 L390.1 772.6 L391.1 771.6 L392.1 770.7 L393.1 769.8 M400.7 762.7 L401.7 761.7 L402.7 760.8 L403.7 759.8 L404.7 758.9 L405.7 758 L406.7 757 L407.7 756.1 L408.7 755.1 L409.7 754.2 L410.7 753.2 L411.7 752.3 L412.7 751.3 L413.7 750.4 L414.7 749.4 L415.7 748.5 L416.7 747.5 L417.7 746.6 L418.7 745.6 L419.7 744.7 L420.7 743.7 L421.7 742.8 L422.7 741.8 L423.7 740.9 M431.3 733.7 L432.3 732.7 L433.3 731.8 L434.3 730.8 L435.3 729.9 L436.3 728.9 L437.3 728 L438.3 727 L439.3 726.1 L440.3 725.1 L441.3 724.2 L442.3 723.3 L443.3 722.3 L444.3 721.4 L445.3 720.4 L446.3 719.5 L447.3 718.6 L448.3 717.6 L449.3 716.7 L450.3 715.8 L451.3 714.8 L452.3 713.9 L453.3 713 L454.3 712.1 M461.8 705.1 L462.8 704.2 L463.8 703.3 L464.8 702.4 L465.8 701.5 L466.8 700.6 L467.8 699.7 L468.8 698.9 L469.8 698 L470.8 697.1 L471.8 696.2 L472.8 695.3 L473.8 694.4 L474.8 693.6 L475.8 692.7 L476.8 691.8 L477.8 690.9 L478.8 690.1 L479.8 689.2 L480.8 688.4 L481.8 687.5 L482.8 686.7 L483.8 685.8 L484.8 685 M492.4 678.7 L493.4 677.9 L494.3 677.1 L495.3 676.3 L496.2 675.6 L497.2 674.8 L498.2 674 L499.1 673.3 L500.1 672.5 L501 671.8 L502 671 L503 670.3 L503.9 669.5 L504.9 668.8 L505.8 668.1 L506.8 667.3 L507.7 666.6 L508.7 665.9 L509.7 665.2 L510.6 664.5 L511.6 663.7 L512.5 663 L513.5 662.3 L514.5 661.6 L515.4 661 M523 655.6 L524 655 L525 654.3 L526 653.6 L527 653 L528 652.3 L529 651.6 L530 651 L531 650.3 L532 649.7 L533 649.1 L534 648.5 L535 647.8 L536 647.2 L537 646.6 L538 646 L539 645.4 L540 644.8 L541 644.2 L542 643.6 L543 643.1 L544 642.5 L545 641.9 L546 641.4 M553.5 637.3 L554.5 636.8 L555.5 636.3 L556.5 635.7 L557.5 635.2 L558.5 634.7 L559.5 634.3 L560.5 633.8 L561.5 633.3 L562.5 632.8 L563.5 632.3 L564.5 631.9 L565.5 631.4 L566.5 631 L567.5 630.5 L568.5 630.1 L569.5 629.6 L570.5 629.2 L571.5 628.7 L572.5 628.3 L573.5 627.9 L574.5 627.5 L575.5 627.1 L576.5 626.6 M584.1 623.7 L585.1 623.3 L586.1 622.9 L587.1 622.6 L588.1 622.2 L589.1 621.9 L590.1 621.5 L591.1 621.2 L592.1 620.8 L593.1 620.5 L594.1 620.2 L595.1 619.8 L596.1 619.5 L597.1 619.2 L598.1 618.9 L599.1 618.6 L600.1 618.3 L601.1 618 L602.1 617.7 L603.1 617.4 L604.1 617.1 L605.1 616.8 L606.1 616.5 L607.1 616.2 M614.7 614.3 L615.7 614 L616.7 613.8 L617.7 613.6 L618.7 613.3 L619.7 613.1 L620.7 612.9 L621.7 612.7 L622.7 612.5 L623.7 612.3 L624.7 612.1 L625.7 611.9 L626.7 611.7 L627.7 611.5 L628.7 611.3 L629.7 611.2 L630.7 611 L631.7 610.8 L632.7 610.6 L633.7 610.5 L634.7 610.3 L635.7 610.2 L636.7 610 L637.7 609.9 M645.3 609 L646.2 608.9 L647.2 608.8 L648.2 608.7 L649.1 608.6 L650.1 608.5 L651 608.5 L652 608.4 L653 608.3 L653.9 608.3 L654.9 608.2 L655.9 608.2 L656.8 608.1 L657.8 608.1"/>
</g>
<g class="t"><text x="56.6" y="1004.2" text-anchor="end" style="letter-spacing:0.6px">0.0</text><text x="56.6" y="928.8" text-anchor="end" style="letter-spacing:0.6px">0.2</text><text x="56.6" y="853.4" text-anchor="end" style="letter-spacing:0.6px">0.4</text><text x="56.6" y="778.1" text-anchor="end" style="letter-spacing:0.6px">0.6</text><text x="56.6" y="702.7" text-anchor="end" style="letter-spacing:0.6px">0.8</text><text x="56.6" y="627.3" text-anchor="end" style="letter-spacing:0.6px">1.0</text><text x="151.3" y="1028.7" text-anchor="middle" style="letter-spacing:0.6px">300</text><text x="312" y="1028.7" text-anchor="middle" style="letter-spacing:0.6px">320</text><text x="472.7" y="1028.7" text-anchor="middle" style="letter-spacing:0.6px">340</text><text x="633.4" y="1028.7" text-anchor="middle" style="letter-spacing:0.6px">360</text></g>
<text class="pl" x="84" y="590.6">b</text>
<text class="ax" x="372.2" y="1066" text-anchor="middle">temperature /K</text>
<text class="ax" transform="translate(26.2 955.8) rotate(-90)" style="letter-spacing:0.93px">activity of α-amylase <tspan font-style="italic">Bacillus licheniformis</tspan>&#160; /-</text>
</svg>
</body></html>
